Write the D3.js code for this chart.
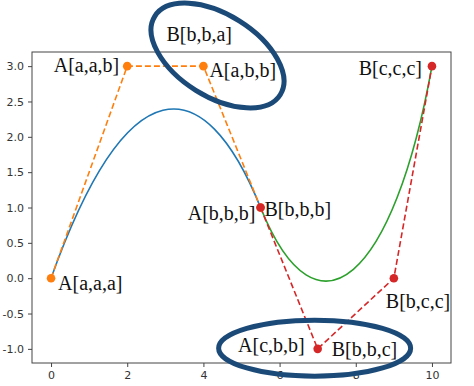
<!DOCTYPE html>
<html>
<head>
<meta charset="utf-8">
<script src="https://cdn.jsdelivr.net/npm/d3@7"></script>
<style>
  html, body { margin: 0; padding: 0; background: #fff; }
  svg { display: block; }
</style>
</head>
<body>
<svg id="chart" width="474" height="386"></svg>
<script>
// ---- data ----
const orangeX = [0, 2, 4, 5.5];
const orangeY = [0, 3, 3, 1];
const redX = [5.5, 7, 9, 10];
const redY = [1, -1, 0, 3];
const xTicks = [0, 2, 4, 6, 8, 10];
const yTicks = [-1.0, -0.5, 0.0, 0.5, 1.0, 1.5, 2.0, 2.5, 3.0];
const orangeLabels = ["A[a,a,a]", "A[a,a,b]", "A[a,b,b]", "A[b,b,b]"];
const redLabels = ["B[b,b,b]", "A[c,b,b]", "B[b,c,c]", "B[c,c,c]"];
const extraLabel = "B[b,b,a]";
const extraLabelPos = [3.89, 3.36];
const redExtraLabel = "B[b,b,c]"; // attached to red point 1
const ellipseCenters = [[4.37, 3.15], [6.92, -0.99]];

// ---- layout ----
const svg = d3.select("#chart");
const x = d3.scaleLinear().domain([-0.5, 10.5]).range([32, 451]);
const y = d3.scaleLinear().domain([-1.2, 3.2]).range([363, 52]);
const C = { blue: "#1f77b4", orange: "#ff7f0e", green: "#2ca02c", red: "#d62728", navy: "#1c4a78" };

// axes
const fmt = v => d3.format(".1f")(v).replace("\u2212", "-");
const ax = svg.append("g").attr("transform", `translate(0,${y.range()[0]})`)
  .call(d3.axisBottom(x).tickValues(xTicks).tickSize(4).tickPadding(4).tickFormat(d3.format("d")));
const ay = svg.append("g").attr("transform", `translate(${x.range()[0]},0)`)
  .call(d3.axisLeft(y).tickValues(yTicks).tickSize(4).tickPadding(4).tickFormat(fmt));
[ax, ay].forEach(g => {
  g.select(".domain").remove();
  g.selectAll(".tick line").attr("stroke", "#444").attr("stroke-width", 1);
  g.selectAll(".tick text").attr("fill", "#333")
    .style("font-family", "'DejaVu Sans', sans-serif").style("font-size", "11px");
});

// frame
svg.append("rect")
  .attr("x", x.range()[0]).attr("y", y.range()[1])
  .attr("width", x.range()[1] - x.range()[0])
  .attr("height", y.range()[0] - y.range()[1])
  .attr("fill", "none").attr("stroke", "#444").attr("stroke-width", 1);

// bezier curves from control points
function bez(xs, ys) {
  const p = d3.path();
  p.moveTo(x(xs[0]), y(ys[0]));
  p.bezierCurveTo(x(xs[1]), y(ys[1]), x(xs[2]), y(ys[2]), x(xs[3]), y(ys[3]));
  return p.toString();
}
svg.append("path").attr("d", bez(orangeX, orangeY))
  .attr("fill", "none").attr("stroke", C.blue).attr("stroke-width", 1.6);
svg.append("path").attr("d", bez(redX, redY))
  .attr("fill", "none").attr("stroke", C.green).attr("stroke-width", 1.6);

// dashed control polygons
const line = d3.line().x(d => x(d[0])).y(d => y(d[1]));
const oPts = orangeX.map((v, i) => [v, orangeY[i]]);
const rPts = redX.map((v, i) => [v, redY[i]]);
svg.append("path").attr("d", line(oPts)).attr("fill", "none")
  .attr("stroke", C.orange).attr("stroke-width", 1.6).attr("stroke-dasharray", "6,3");
svg.append("path").attr("d", line(rPts)).attr("fill", "none")
  .attr("stroke", C.red).attr("stroke-width", 1.6).attr("stroke-dasharray", "6,3");
svg.selectAll("circle.o").data(oPts).join("circle").attr("class", "o")
  .attr("cx", d => x(d[0])).attr("cy", d => y(d[1])).attr("r", 4.3).attr("fill", C.orange);
svg.selectAll("circle.r").data(rPts).join("circle").attr("class", "r")
  .attr("cx", d => x(d[0])).attr("cy", d => y(d[1])).attr("r", 4.3).attr("fill", C.red);

// labels
const serif = "'Liberation Serif', 'Times New Roman', serif";
function label(px, py, text, dx, dy, anchor) {
  svg.append("text").attr("x", x(px) + dx).attr("y", y(py) + dy)
    .attr("text-anchor", anchor).attr("fill", "#111")
    .style("font-family", serif).style("font-size", "20px").text(text);
}
const oOff = [[7, 12, "start"], [-8, 6, "end"], [6, 11, "start"], [-5, 12, "end"]];
const rOff = [[4, 8, "start"], [-13, 3, "end"], [-8, 30, "start"], [-10, 9, "end"]];
oPts.forEach((p, i) => label(p[0], p[1], orangeLabels[i], ...oOff[i]));
rPts.forEach((p, i) => label(p[0], p[1], redLabels[i], ...rOff[i]));
label(rPts[1][0], rPts[1][1], redExtraLabel, 14, 7, "start");
label(extraLabelPos[0], extraLabelPos[1], extraLabel, 0, 0, "middle");

// ellipse annotations
const ellSize = [[74, 41, 32], [96, 28, 0]];
ellipseCenters.forEach((c, i) => {
  svg.append("ellipse")
    .attr("transform", `translate(${x(c[0])},${y(c[1])}) rotate(${ellSize[i][2]})`)
    .attr("rx", ellSize[i][0]).attr("ry", ellSize[i][1])
    .attr("fill", "none").attr("stroke", C.navy).attr("stroke-width", 5);
});
</script>
</body>
</html>
